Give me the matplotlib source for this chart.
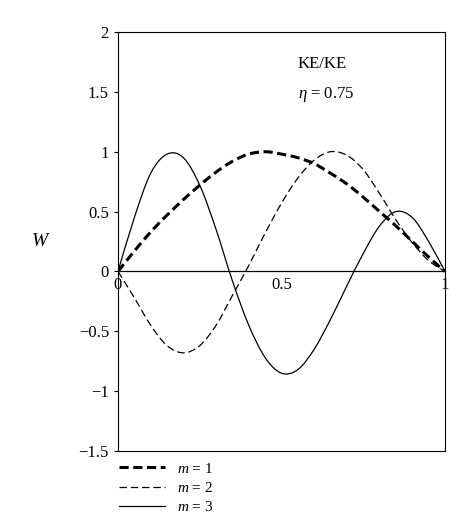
import matplotlib.pyplot as plt
from matplotlib.lines import Line2D
from matplotlib.path import Path
from matplotlib.patches import PathPatch

plt.rcParams['font.family'] = ['Liberation Serif', 'DejaVu Serif']
plt.rcParams['mathtext.fontset'] = 'custom'
plt.rcParams['mathtext.rm'] = 'Liberation Serif'
plt.rcParams['mathtext.it'] = 'Liberation Serif:italic'

x = [0, .05, .1, .15, .2, .25, .3, .35, .4, .45, .5, .55, .6, .65, .7, .75, .8, .85, .9, .95, 1]
w_m1 = [0, .17, .33, .47, .6, .72, .83, .92, .98, 1.0, .98, .95, .9, .82, .73, .62, .5, .38, .25, .12, 0]
w_m2 = [0, -.22, -.45, -.62, -.68, -.62, -.45, -.2, .05, .32, .57, .78, .93, 1.0, .97, .85, .65, .43, .24, .09, 0]
w_m3 = [0, .45, .82, .98, .95, .72, .35, -.08, -.45, -.72, -.85, -.82, -.65, -.4, -.12, .15, .38, .5, .45, .25, 0]
xtick_vals = [0, 0.5, 1]
ytick_vals = [-1.5, -1, -0.5, 0, 0.5, 1, 1.5, 2]


def smooth_path(xs, ys):
    # Catmull-Rom through the read points, drawn as cubic Bezier segments
    pts = list(zip(xs, ys))
    verts = [pts[0]]
    codes = [Path.MOVETO]
    for i in range(len(pts) - 1):
        p0 = pts[max(i - 1, 0)]
        p1, p2 = pts[i], pts[i + 1]
        p3 = pts[min(i + 2, len(pts) - 1)]
        c1 = (p1[0] + (p2[0] - p0[0]) / 6, p1[1] + (p2[1] - p0[1]) / 6)
        c2 = (p2[0] - (p3[0] - p1[0]) / 6, p2[1] - (p3[1] - p1[1]) / 6)
        verts += [c1, c2, p2]
        codes += [Path.CURVE4] * 3
    return Path(verts, codes)


fig = plt.figure(figsize=(4.74, 5.31), dpi=100)
ax = fig.add_axes([118 / 474, 1 - 451 / 531, 327 / 474, 419 / 531])

styles = [dict(lw=2.2, ls=(0, (3, 1.5))), dict(lw=0.9, ls=(0, (6, 3))), dict(lw=0.9, ls='-')]
for ys, st in zip([w_m1, w_m2, w_m3], styles):
    ax.add_patch(PathPatch(smooth_path(x, ys), fill=False, edgecolor='black',
                           linewidth=st['lw'], linestyle=st['ls']))
ax.axhline(0, color='black', lw=0.9)

ax.set_xlim(0, 1)
ax.set_ylim(-1.5, 2)
ax.set_xticks([])
for v in xtick_vals:
    ax.text(v, -0.05, f"{v:g}", ha='center', va='top', fontsize=12)
ax.set_yticks(ytick_vals)
ax.set_yticklabels([f"{v:g}".replace('-', '\u2212') for v in ytick_vals], fontsize=12)
ax.tick_params(axis='y', direction='out', length=3, width=0.8)
for s in ax.spines.values():
    s.set_linewidth(0.8)

ax.text(0.55, 1.7, "KE/KE", fontsize=12)
ax.text(0.55, 1.45, r"$\eta$ = 0.75", fontsize=12)
fig.text(40 / 474, 1 - 241 / 531, "W", style='italic', fontsize=14, ha='center', va='center')

handles = [Line2D([], [], color='black', lw=st['lw'], ls=st['ls']) for st in styles]
labels = [r"$m$ = 1", r"$m$ = 2", r"$m$ = 3"]
fig.legend(handles, labels, loc='upper left', bbox_to_anchor=(105 / 474, 1 - 448 / 531),
           frameon=False, fontsize=11, handlelength=3, labelspacing=0.35)

fig.savefig("out.png", dpi=100)
